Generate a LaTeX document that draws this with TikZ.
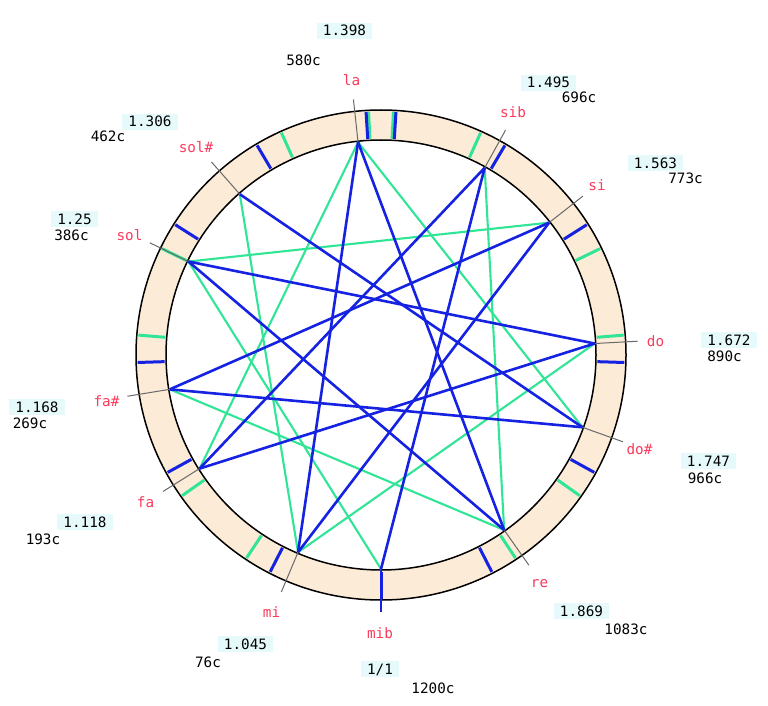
\documentclass[tikz,border=0pt]{standalone}
\usepackage{fontspec}
\newfontfamily\monof{DejaVu Sans Mono}
\usetikzlibrary{calc}
\definecolor{ringfill}{RGB}{252,235,214}
\definecolor{chordblue}{RGB}{22,34,226}
\definecolor{chordgreen}{RGB}{48,230,150}
\definecolor{notered}{RGB}{252,58,92}
\definecolor{boxcyan}{RGB}{230,250,252}
\definecolor{linegray}{RGB}{105,105,105}
\begin{document}
\begin{tikzpicture}[x=1pt,y=-1pt,
  lblfont/.style={font=\monof\fontsize{14.3}{16}\selectfont},
  ratiobox/.style={lblfont, fill=boxcyan, inner xsep=6pt, inner ysep=2.8pt, text height=10.4pt, text depth=0pt, anchor=base},
  centlabel/.style={lblfont, inner sep=0pt, anchor=base, text=black},
  notelabel/.style={lblfont, inner sep=0pt, anchor=base, text=notered},
  fifthline/.style={draw=chordblue, line width=2.6pt},
  thirdline/.style={draw=chordgreen, line width=2.1pt},
  pytick/.style={draw=chordblue, line width=3pt},
  justtick/.style={draw=chordgreen, line width=3pt},
  noteline/.style={draw=linegray, line width=1pt},
  ringline/.style={draw=black, line width=1.5pt}
]
\useasboundingbox (0,0) rectangle (768,706);
\fill[white] (0,0) rectangle (768,706);
\begin{scope}[shift={(381,355)}]
  \fill[ringfill, even odd rule] (0,0) circle[radius=245] (0,0) circle[radius=215];
  % just (5-limit) positions
  \foreach \c in {111.73,182.40,315.64,386.31,519.55,590.22,609.78,680.45,813.69,884.36,1017.60,1088.27}
    \draw[justtick] (90+0.3*\c:216.5) -- (90+0.3*\c:243.5);
  % pythagorean positions
  \foreach \c in {0,90.22,203.91,294.13,407.82,498.04,588.27,611.73,701.96,792.18,905.87,996.09,1109.78}
    \draw[pytick] (90+0.3*\c:216.5) -- (90+0.3*\c:243.5);
  \draw[ringline] (0,0) circle[radius=245];
  \draw[ringline] (0,0) circle[radius=215];
  % note points
  \foreach \n/\c in {mib/0, mi/76.05, fa/193.16, fas/269.21, sol/386.31, sols/462.37, la/579.47, sib/696.58, si/772.63, do/889.74, dos/965.78, re/1082.89}{
    \coordinate (\n) at (90+0.3*\c:214);
    \coordinate (\n-out) at (90+0.3*\c:257);
  }
  \foreach \n in {mi, fa, fas, sol, sols, la, sib, si, do, dos, re}
    \draw[noteline] (\n) -- (\n-out);
  \draw[draw=chordblue, line width=1.2pt] (mib) -- (mib-out);
  % major thirds
  \draw[thirdline] (mib) -- (sol);
  \draw[thirdline] (sib) -- (re);
  \draw[thirdline] (fa) -- (la);
  \draw[thirdline] (do) -- (mi);
  \draw[thirdline] (sol) -- (si);
  \draw[thirdline] (re) -- (fas);
  \draw[thirdline] (la) -- (dos);
  \draw[thirdline] (mi) -- (sols);
  % fifths
  \draw[fifthline] (mib) -- (sib);
  \draw[fifthline] (sib) -- (fa);
  \draw[fifthline] (fa) -- (do);
  \draw[fifthline] (do) -- (sol);
  \draw[fifthline] (sol) -- (re);
  \draw[fifthline] (re) -- (la);
  \draw[fifthline] (la) -- (mi);
  \draw[fifthline] (mi) -- (si);
  \draw[fifthline] (si) -- (fas);
  \draw[fifthline] (fas) -- (dos);
  \draw[fifthline] (dos) -- (sols);
\end{scope}
% note names
\node[notelabel] (t-la) at (351.5,86) {la};
\node[notelabel] (t-sib) at (513,118) {sib};
\node[notelabel] (t-si) at (597,190) {si};
\node[notelabel] (t-do) at (655.5,346) {do};
\node[notelabel] (t-dos) at (639.5,454) {do\#};
\node[notelabel] (t-re) at (539.5,587) {re};
\node[notelabel] (t-mib) at (380,638) {mib};
\node[notelabel] (t-mi) at (271.5,617) {mi};
\node[notelabel] (t-fa) at (145.5,507) {fa};
\node[notelabel] (t-fas) at (106.5,406) {fa\#};
\node[notelabel] (t-sol) at (129.5,240) {sol};
\node[notelabel] (t-sols) at (196,153) {sol\#};
% ratios
\node[ratiobox] (r-la) at (344.5,36) {1.398};
\node[ratiobox] (r-sib) at (548.5,88) {1.495};
\node[ratiobox] (r-si) at (655.5,168) {1.563};
\node[ratiobox] (r-do) at (729,345) {1.672};
\node[ratiobox] (r-dos) at (708.5,466) {1.747};
\node[ratiobox] (r-re) at (581.5,616) {1.869};
\node[ratiobox] (r-mib) at (380,674) {1/1};
\node[ratiobox] (r-mi) at (245.5,649) {1.045};
\node[ratiobox] (r-fa) at (85,527) {1.118};
\node[ratiobox] (r-fas) at (37,412) {1.168};
\node[ratiobox] (r-sol) at (74.5,224) {1.25};
\node[ratiobox] (r-sols) at (150,127) {1.306};
% cents
\node[centlabel] (c-la) at (303.5,66) {580c};
\node[centlabel] (c-sib) at (579,103) {696c};
\node[centlabel] (c-si) at (685.5,183) {773c};
\node[centlabel] (c-do) at (724.5,361) {890c};
\node[centlabel] (c-dos) at (705,483) {966c};
\node[centlabel] (c-re) at (626,634) {1083c};
\node[centlabel] (c-mib) at (433,693) {1200c};
\node[centlabel] (c-mi) at (208,667) {76c};
\node[centlabel] (c-fa) at (43,544) {193c};
\node[centlabel] (c-fas) at (30,428) {269c};
\node[centlabel] (c-sol) at (71.5,240) {386c};
\node[centlabel] (c-sols) at (108,142) {462c};
\end{tikzpicture}
\end{document}
